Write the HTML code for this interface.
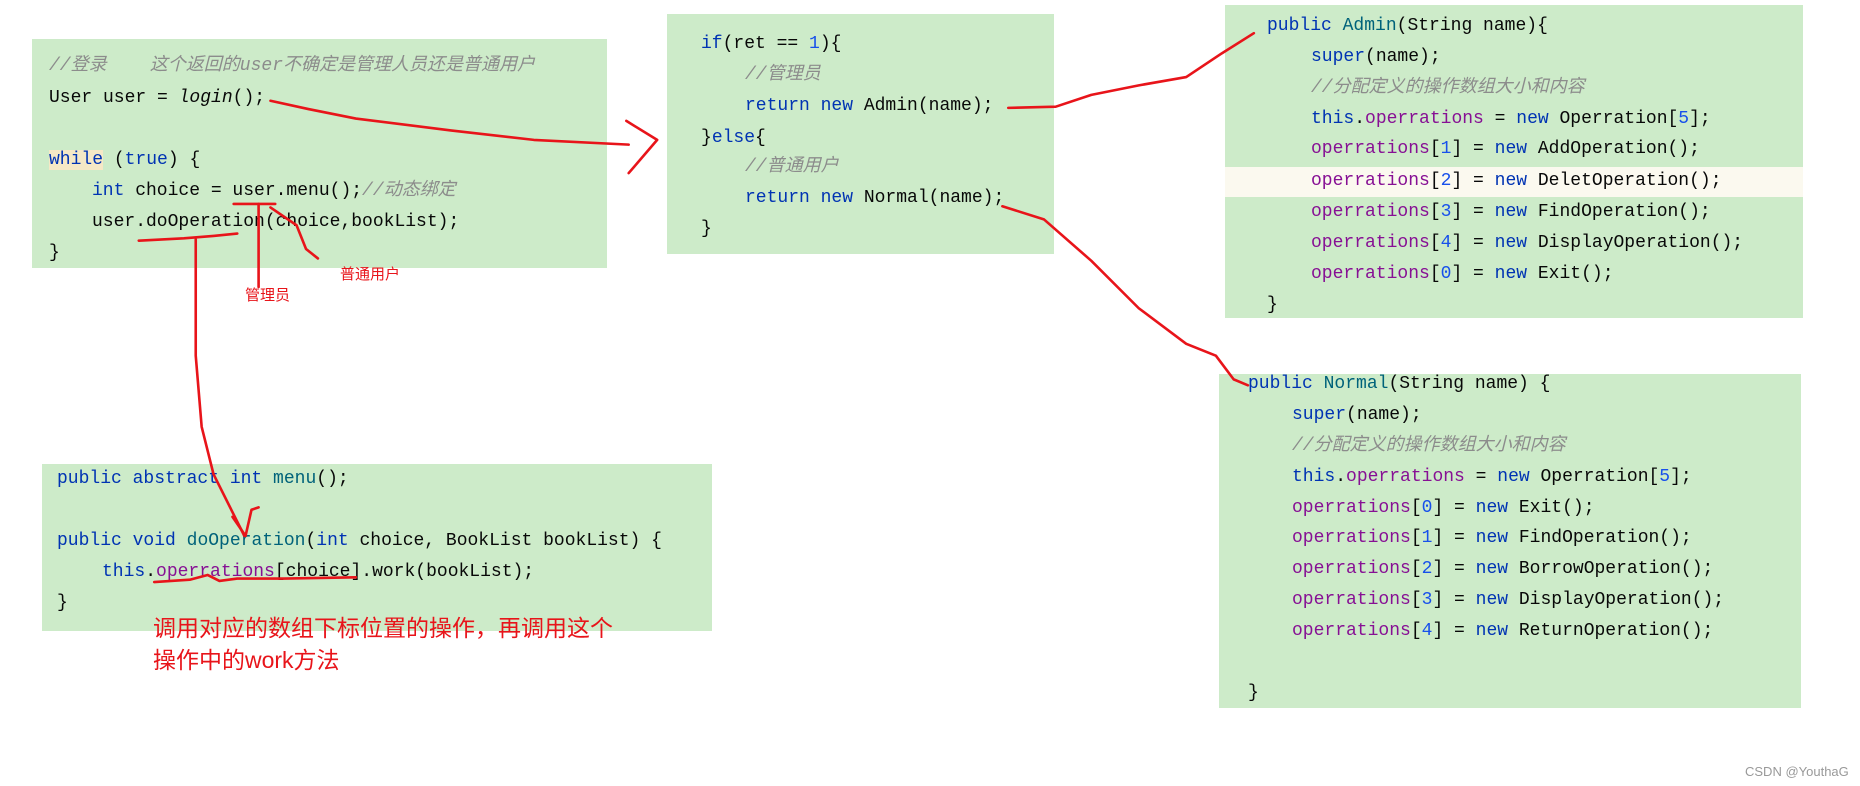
<!DOCTYPE html>
<html><head><meta charset="utf-8"><style>
body{margin:0;width:1860px;height:786px;background:#fff;position:relative;overflow:hidden;font-family:"Liberation Mono","Noto Sans CJK SC",monospace;font-size:18px;color:#080808}
.b{position:absolute;background:#cdebc9}
.l{position:absolute;white-space:pre;line-height:30px;height:30px}
.k{color:#0033b3}.p{color:#871094}.c{color:#8c8c8c;font-style:italic}.m{color:#00627a}.n{color:#1750eb}
.r{position:absolute;color:#e8141a;font-family:"Liberation Sans","Noto Sans CJK SC",sans-serif;white-space:nowrap}
svg{position:absolute;left:0;top:0}
</style></head><body>
<div class="b" style="left:32px;top:39px;width:575px;height:229px"></div>
<div class="b" style="left:667px;top:14px;width:387px;height:240px"></div>
<div class="b" style="left:1225px;top:5px;width:578px;height:313px"></div>
<div style="position:absolute;left:1225px;top:167px;width:578px;height:30px;background:#fbf9ef"></div>
<div class="b" style="left:1219px;top:374px;width:582px;height:334px"></div>
<div class="b" style="left:42px;top:464px;width:670px;height:167px"></div>

<div class="l" style="left:49px;top:51px"><span class="c">//登录    这个返回的user不确定是管理人员还是普通用户</span></div>
<div class="l" style="left:49px;top:83px">User user = <i>login</i>();</div>
<div class="l" style="left:49px;top:145px"><span class="k" style="background:#f5e8c6">while</span> (<span class="k">true</span>) {</div>
<div class="l" style="left:92px;top:176px"><span class="k">int</span> choice = user.menu();<span class="c">//动态绑定</span></div>
<div class="l" style="left:92px;top:207px">user.doOperation(choice,bookList);</div>
<div class="l" style="left:49px;top:238px">}</div>

<div class="l" style="left:701px;top:29px"><span class="k">if</span>(ret == <span class="n">1</span>){</div>
<div class="l" style="left:745px;top:60px"><span class="c">//管理员</span></div>
<div class="l" style="left:745px;top:91px"><span class="k">return new</span> Admin(name);</div>
<div class="l" style="left:701px;top:123px">}<span class="k">else</span>{</div>
<div class="l" style="left:745px;top:152px"><span class="c">//普通用户</span></div>
<div class="l" style="left:745px;top:183px"><span class="k">return new</span> Normal(name);</div>
<div class="l" style="left:701px;top:214px">}</div>

<div class="l" style="left:1267px;top:11px"><span class="k">public</span> <span class="m">Admin</span>(String name){</div>
<div class="l" style="left:1311px;top:42px"><span class="k">super</span>(name);</div>
<div class="l" style="left:1311px;top:73px"><span class="c">//分配定义的操作数组大小和内容</span></div>
<div class="l" style="left:1311px;top:104px"><span class="k">this</span>.<span class="p">operrations</span> = <span class="k">new</span> Operration[<span class="n">5</span>];</div>
<div class="l" style="left:1311px;top:134px"><span class="p">operrations</span>[<span class="n">1</span>] = <span class="k">new</span> AddOperation();</div>
<div class="l" style="left:1311px;top:166px"><span class="p">operrations</span>[<span class="n">2</span>] = <span class="k">new</span> DeletOperation();</div>
<div class="l" style="left:1311px;top:197px"><span class="p">operrations</span>[<span class="n">3</span>] = <span class="k">new</span> FindOperation();</div>
<div class="l" style="left:1311px;top:228px"><span class="p">operrations</span>[<span class="n">4</span>] = <span class="k">new</span> DisplayOperation();</div>
<div class="l" style="left:1311px;top:259px"><span class="p">operrations</span>[<span class="n">0</span>] = <span class="k">new</span> Exit();</div>
<div class="l" style="left:1267px;top:290px">}</div>

<div class="l" style="left:1248px;top:369px"><span class="k">public</span> <span class="m">Normal</span>(String name) {</div>
<div class="l" style="left:1292px;top:400px"><span class="k">super</span>(name);</div>
<div class="l" style="left:1292px;top:431px"><span class="c">//分配定义的操作数组大小和内容</span></div>
<div class="l" style="left:1292px;top:462px"><span class="k">this</span>.<span class="p">operrations</span> = <span class="k">new</span> Operration[<span class="n">5</span>];</div>
<div class="l" style="left:1292px;top:493px"><span class="p">operrations</span>[<span class="n">0</span>] = <span class="k">new</span> Exit();</div>
<div class="l" style="left:1292px;top:523px"><span class="p">operrations</span>[<span class="n">1</span>] = <span class="k">new</span> FindOperation();</div>
<div class="l" style="left:1292px;top:554px"><span class="p">operrations</span>[<span class="n">2</span>] = <span class="k">new</span> BorrowOperation();</div>
<div class="l" style="left:1292px;top:585px"><span class="p">operrations</span>[<span class="n">3</span>] = <span class="k">new</span> DisplayOperation();</div>
<div class="l" style="left:1292px;top:616px"><span class="p">operrations</span>[<span class="n">4</span>] = <span class="k">new</span> ReturnOperation();</div>
<div class="l" style="left:1248px;top:678px">}</div>

<div class="l" style="left:57px;top:464px"><span class="k">public abstract int</span> <span class="m">menu</span>();</div>
<div class="l" style="left:57px;top:526px"><span class="k">public void</span> <span class="m">doOperation</span>(<span class="k">int</span> choice, BookList bookList) {</div>
<div class="l" style="left:102px;top:557px"><span class="k">this</span>.<span class="p">operrations</span>[choice].work(bookList);</div>
<div class="l" style="left:57px;top:588px">}</div>

<div class="r" style="left:153px;top:609px;font-size:23px">调用对应的数组下标位置的操作，再调用这个</div>
<div class="r" style="left:153px;top:641px;font-size:23px">操作中的work方法</div>
<div class="r" style="left:245px;top:284px;font-size:15px">管理员</div>
<div class="r" style="left:340px;top:263px;font-size:15px">普通用户</div>
<div style="position:absolute;left:1745px;top:764px;font:13px 'Liberation Sans',sans-serif;color:#999">CSDN @YouthaG</div>

<svg width="1860" height="786" viewBox="0 0 1568 663" preserveAspectRatio="none" fill="none" stroke="#e8141a" stroke-width="2.2" stroke-linecap="round" stroke-linejoin="round">
<polyline points="228,85 260,92 300,100 380,110 450,118 530,122"/>
<polyline points="528,102 554,118 530,146"/>
<polyline points="850,91 890,90 920,80 960,72 1000,65 1030,45 1057,28"/>
<polyline points="845,174 880,185 920,220 960,260 1000,290 1025,300 1040,320 1052,325"/>
<polyline points="197,172 232,172"/>
<polyline points="218,172 218,242"/>
<polyline points="228,175 250,190 258,210 268,218"/>
<polyline points="117,203 155,201 180,199 200,197"/>
<polyline points="165,202 165,300 170,360 180,400 195,430 206,452"/>
<polyline points="196,436 207,452 212,430 218,428"/>
<polyline points="130,491 160,489 175,485 185,490 200,488 240,488 300,487"/>
</svg>
</body></html>
